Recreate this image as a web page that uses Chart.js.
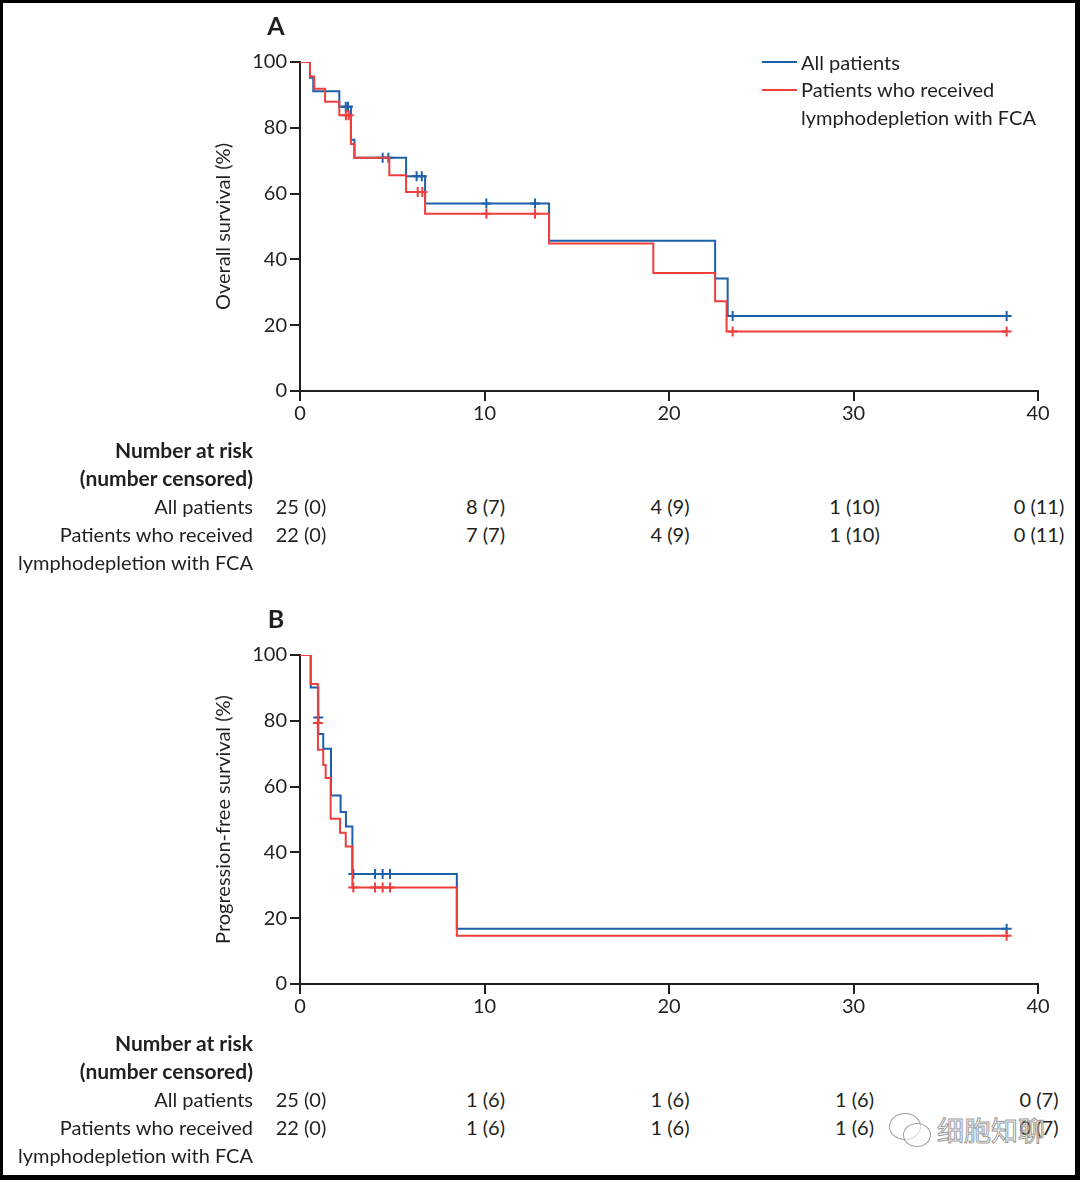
<!DOCTYPE html>
<html><head><meta charset="utf-8">
<script src="https://cdn.jsdelivr.net/npm/chart.js@4.4.1/dist/chart.umd.min.js"></script>
<style>
html,body{margin:0;padding:0;background:#fff;}
#page{position:relative;width:1080px;height:1180px;overflow:hidden;font-family:Lato,'Noto Sans',sans-serif;color:#231f20;background:#fff;}
#frame{position:absolute;left:0;top:0;width:1080px;height:1180px;box-sizing:border-box;border-style:solid;border-color:#000;border-width:3px 5px 5px 3px;pointer-events:none;z-index:5;}
canvas{position:absolute;left:0;}
.t{position:absolute;font-size:20px;line-height:24px;white-space:nowrap;}
.b{font-weight:bold;}
.h{font-size:21px;}
.wm{position:absolute;font-family:'Noto Sans CJK SC',sans-serif;font-size:27px;line-height:32px;color:rgba(255,255,255,0.55);-webkit-text-stroke:1px rgba(120,120,120,0.75);white-space:nowrap;z-index:4;}
.bub{position:absolute;border:1.5px solid rgba(130,130,130,0.75);border-radius:50%;background:rgba(255,255,255,0.6);z-index:4;}
</style></head>
<body><div id="page">
<canvas id="cA" width="1080" height="450" style="top:0px"></canvas>
<canvas id="cB" width="1080" height="450" style="top:593px"></canvas>
<div id="frame"></div>
</div>
<script>
// ---------- DATA ----------
const panelLabels = ['A', 'B'];
const seriesNames = ['All patients', 'Patients who received', 'lymphodepletion with FCA'];
const yTitles = ['Overall survival (%)', 'Progression-free survival (%)'];
const xMin = 0, xMax = 40, xStep = 10;
const yMin = 0, yMax = 100, yStep = 20;

// Panel A: overall survival (step points: time, value after the step)
const osAllTimes  = [0, 0.54, 0.72, 2.13, 2.76, 2.95, 5.75, 6.78, 13.5, 22.5, 23.18, 38.3];
const osAllValues = [100, 95.2, 91.1, 86.4, 76.4, 70.9, 65.3, 57.0, 45.7, 34.2, 22.8, 22.8];
const osAllCensTimes  = [2.48, 2.6, 4.48, 4.79, 6.32, 6.6, 10.1, 12.74, 23.45, 38.3];
const osAllCensValues = [86.4, 86.4, 70.9, 70.9, 65.3, 65.3, 57.0, 57.0, 22.8, 22.8];

const osFcaTimes  = [0, 0.54, 0.77, 1.36, 2.13, 2.76, 2.95, 4.84, 5.75, 6.78, 13.5, 19.15, 22.5, 23.12, 38.3];
const osFcaValues = [100, 95.6, 91.9, 87.9, 83.8, 75.1, 70.9, 65.6, 60.5, 53.9, 44.8, 35.9, 27.3, 18.1, 18.1];
const osFcaCensTimes  = [2.49, 2.64, 6.38, 6.63, 10.1, 12.74, 23.45, 38.3];
const osFcaCensValues = [83.8, 83.8, 60.5, 60.5, 53.9, 53.9, 18.1, 18.1];

// Panel B: progression-free survival
const pfsAllTimes  = [0, 0.58, 0.99, 1.26, 1.68, 2.2, 2.49, 2.84, 8.5, 38.3];
const pfsAllValues = [100, 90.1, 76.0, 71.5, 57.3, 52.3, 47.9, 33.4, 16.8, 16.8];
const pfsAllCensTimes  = [0.99, 2.89, 4.07, 4.48, 4.88, 38.3];
const pfsAllCensValues = [81.0, 33.4, 33.4, 33.4, 33.4, 16.8];

const pfsFcaTimes  = [0, 0.58, 0.97, 1.26, 1.39, 1.66, 2.17, 2.48, 2.84, 8.5, 38.3];
const pfsFcaValues = [100, 91.2, 71.2, 66.6, 62.6, 50.2, 46.0, 41.8, 29.3, 14.7, 14.7];
const pfsFcaCensTimes  = [0.97, 2.89, 4.07, 4.48, 4.88, 38.3];
const pfsFcaCensValues = [79.3, 29.3, 29.3, 29.3, 29.3, 14.7];

// Number at risk (number censored)
const riskTimes = [0, 10, 20, 30, 40];
const riskHeader = ['Number at risk', '(number censored)'];
const osRiskAll = ['25 (0)', '8 (7)', '4 (9)', '1 (10)', '0 (11)'];
const osRiskFca = ['22 (0)', '7 (7)', '4 (9)', '1 (10)', '0 (11)'];
const pfsRiskAll = ['25 (0)', '1 (6)', '1 (6)', '1 (6)', '0 (7)'];
const pfsRiskFca = ['22 (0)', '1 (6)', '1 (6)', '1 (6)', '0 (7)'];

const watermarkText = '细胞知聊';

// ---------- STYLE ----------
const BLUE = '#1d5fa9';
const RED = '#ef3f3d';
const INK = '#231f20';
const FONT = 'Lato, "Noto Sans", sans-serif';

Chart.defaults.font.family = FONT;
Chart.defaults.font.size = 20;
Chart.defaults.color = INK;

const page = document.getElementById('page');
function txt(s, x, y, align, cls, extra) {
  const d = document.createElement('div');
  d.className = 't ' + (cls || '');
  d.textContent = s;
  d.style.left = x + 'px';
  d.style.top = y + 'px';
  const tx = align === 'right' ? '-100%' : (align === 'center' ? '-50%' : '0');
  d.style.transform = 'translate(' + tx + ',-50%)';
  if (extra) Object.assign(d.style, extra);
  page.appendChild(d);
  return d;
}

function pts(ts, vs) { return ts.map((t, i) => ({x: t, y: vs[i]})); }

function makeChart(id, yTitle, allT, allV, allCT, allCV, fcaT, fcaV, fcaCT, fcaCV) {
  const ctx = document.getElementById(id);
  return new Chart(ctx, {
    type: 'line',
    data: {
      datasets: [
        {label: 'fca', data: pts(fcaT, fcaV), borderColor: RED, borderWidth: 2, stepped: 'before', pointRadius: 0, fill: false, order: 0},
        {label: 'fcaC', data: pts(fcaCT, fcaCV), showLine: false, pointStyle: 'cross', pointRadius: 5, pointBorderWidth: 2, pointBorderColor: RED, borderColor: RED, order: 0},
        {label: 'all', data: pts(allT, allV), borderColor: BLUE, borderWidth: 2, stepped: 'before', pointRadius: 0, fill: false, order: 1},
        {label: 'allC', data: pts(allCT, allCV), showLine: false, pointStyle: 'cross', pointRadius: 5, pointBorderWidth: 2, pointBorderColor: BLUE, borderColor: BLUE, order: 1}
      ]
    },
    options: {
      responsive: false,
      animation: false,
      devicePixelRatio: 1,
      layout: {padding: {left: 212, top: 62, right: 42, bottom: 19}},
      plugins: {legend: {display: false}, tooltip: {enabled: false}},
      scales: {
        x: {
          type: 'linear', min: xMin, max: xMax,
          ticks: {stepSize: xStep, padding: 1, color: INK, font: {size: 20}},
          grid: {drawOnChartArea: false, drawTicks: true, tickLength: 10, color: INK, lineWidth: 2},
          border: {display: true, color: INK, width: 2},
          afterFit: s => { s.height = 40; }
        },
        y: {
          type: 'linear', min: yMin, max: yMax,
          ticks: {stepSize: yStep, padding: 3, color: INK, font: {size: 20}},
          grid: {drawOnChartArea: false, drawTicks: true, tickLength: 10, color: INK, lineWidth: 2},
          border: {display: true, color: INK, width: 2},
          title: {display: true, text: yTitle, color: INK, font: {size: 20}, padding: 0},
          afterFit: s => { s.width = 88; }
        }
      }
    }
  });
}

const chartA = makeChart('cA', yTitles[0], osAllTimes, osAllValues, osAllCensTimes, osAllCensValues, osFcaTimes, osFcaValues, osFcaCensTimes, osFcaCensValues);
const chartB = makeChart('cB', yTitles[1], pfsAllTimes, pfsAllValues, pfsAllCensTimes, pfsAllCensValues, pfsFcaTimes, pfsFcaValues, pfsFcaCensTimes, pfsFcaCensValues);

function decorate(chart, top, label, riskAll, riskFca, withLegend) {
  const ca = chart.chartArea;
  txt(label, ca.left - 24, top + 25, 'center', 'b', {fontSize: '25px', lineHeight: '30px'});
  const lx = ca.left - 47;
  txt(riskHeader[0], lx, top + 450, 'right', 'b h');
  txt(riskHeader[1], lx, top + 478, 'right', 'b h');
  txt(seriesNames[0], lx, top + 506, 'right');
  txt(seriesNames[1], lx, top + 534, 'right');
  txt(seriesNames[2], lx, top + 562, 'right');
  riskTimes.forEach((t, i) => {
    const x = chart.scales.x.getPixelForValue(t) + 1;
    txt(riskAll[i], x, top + 506, 'center');
    txt(riskFca[i], x, top + 534, 'center');
  });
  if (withLegend) {
    const addLine = (y, c) => {
      const d = document.createElement('div');
      Object.assign(d.style, {position: 'absolute', left: '762px', top: (top + y - 1) + 'px', width: '35px', height: '2px', background: c});
      page.appendChild(d);
    };
    addLine(62, BLUE);
    addLine(90, RED);
    txt(seriesNames[0], 801, top + 62, 'left');
    txt(seriesNames[1], 801, top + 89, 'left');
    txt(seriesNames[2], 801, top + 117, 'left');
  }
}
decorate(chartA, 0, panelLabels[0], osRiskAll, osRiskFca, true);
decorate(chartB, 593, panelLabels[1], pfsRiskAll, pfsRiskFca, false);

// watermark
(function () {
  const b1 = document.createElement('div'); b1.className = 'bub';
  Object.assign(b1.style, {left: '889px', top: '1113px', width: '30px', height: '25px'});
  page.appendChild(b1);
  const b2 = document.createElement('div'); b2.className = 'bub';
  Object.assign(b2.style, {left: '903px', top: '1123px', width: '26px', height: '22px'});
  page.appendChild(b2);
  const w = document.createElement('div'); w.className = 'wm'; w.textContent = watermarkText;
  Object.assign(w.style, {left: '937px', top: '1114px'});
  page.appendChild(w);
})();
</script>
</body></html>
